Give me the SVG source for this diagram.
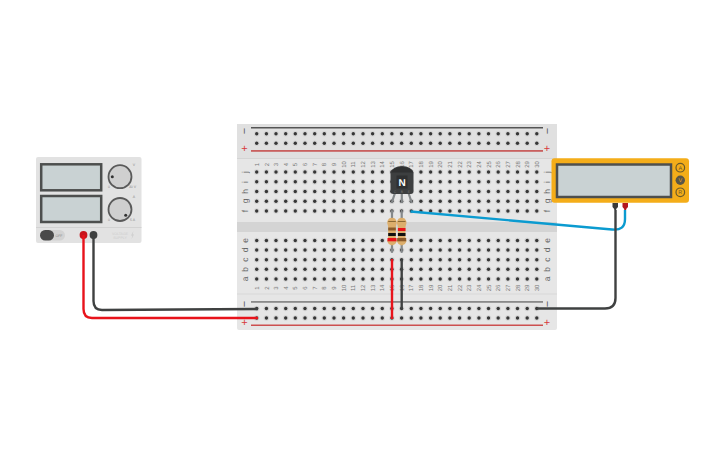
<svg xmlns="http://www.w3.org/2000/svg" xmlns:xlink="http://www.w3.org/1999/xlink" width="725" height="453" viewBox="0 0 725 453">
<style>
text{text-rendering:geometricPrecision}
.lbl{font-family:"Liberation Sans",Arial,sans-serif;font-size:6px;fill:#777;text-anchor:middle}
.let{font-family:"Liberation Sans",Arial,sans-serif;font-size:8.500px;fill:#666;text-anchor:middle}
.sign{font-family:"Liberation Sans",Arial,sans-serif;font-size:11px;fill:#555;text-anchor:middle}
.plus{font-family:"Liberation Sans",Arial,sans-serif;font-size:11px;fill:#d8383a;text-anchor:middle}
.sm{font-family:"Liberation Sans",Arial,sans-serif;font-size:3.500px;fill:#888;text-anchor:middle}
.w{fill:none;stroke-width:2.400;stroke-linejoin:round;stroke-linecap:butt}
.screen{fill:#c9d2d3;stroke:#4d4f4e;stroke-width:2.500}
.lead{stroke:#85898b;stroke-width:2.200;fill:none;stroke-linecap:round}
</style>
<defs>
<g id="hole"><circle r="2.800" fill="#d4d4d4"/><circle r="1.700" fill="#363636"/></g>
<g id="row">
<use xlink:href="#hole" x="256.7"/><use xlink:href="#hole" x="266.4"/><use xlink:href="#hole" x="276"/><use xlink:href="#hole" x="285.7"/><use xlink:href="#hole" x="295.3"/><use xlink:href="#hole" x="305"/><use xlink:href="#hole" x="314.7"/><use xlink:href="#hole" x="324.3"/><use xlink:href="#hole" x="334"/><use xlink:href="#hole" x="343.6"/>
<use xlink:href="#hole" x="353.3"/><use xlink:href="#hole" x="363"/><use xlink:href="#hole" x="372.6"/><use xlink:href="#hole" x="382.3"/><use xlink:href="#hole" x="391.9"/><use xlink:href="#hole" x="401.6"/><use xlink:href="#hole" x="411.3"/><use xlink:href="#hole" x="420.9"/><use xlink:href="#hole" x="430.6"/><use xlink:href="#hole" x="440.2"/>
<use xlink:href="#hole" x="449.9"/><use xlink:href="#hole" x="459.6"/><use xlink:href="#hole" x="469.2"/><use xlink:href="#hole" x="478.9"/><use xlink:href="#hole" x="488.5"/><use xlink:href="#hole" x="498.2"/><use xlink:href="#hole" x="507.9"/><use xlink:href="#hole" x="517.5"/><use xlink:href="#hole" x="527.2"/><use xlink:href="#hole" x="536.8"/>
</g>
<g id="nums">
<text class="lbl" transform="translate(258.8,0) rotate(-90)">1</text><text class="lbl" transform="translate(268.5,0) rotate(-90)">2</text><text class="lbl" transform="translate(278.1,0) rotate(-90)">3</text><text class="lbl" transform="translate(287.8,0) rotate(-90)">4</text><text class="lbl" transform="translate(297.4,0) rotate(-90)">5</text><text class="lbl" transform="translate(307.1,0) rotate(-90)">6</text><text class="lbl" transform="translate(316.8,0) rotate(-90)">7</text><text class="lbl" transform="translate(326.4,0) rotate(-90)">8</text><text class="lbl" transform="translate(336.1,0) rotate(-90)">9</text><text class="lbl" transform="translate(345.7,0) rotate(-90)">10</text>
<text class="lbl" transform="translate(355.4,0) rotate(-90)">11</text><text class="lbl" transform="translate(365.1,0) rotate(-90)">12</text><text class="lbl" transform="translate(374.7,0) rotate(-90)">13</text><text class="lbl" transform="translate(384.4,0) rotate(-90)">14</text><text class="lbl" transform="translate(394,0) rotate(-90)">15</text><text class="lbl" transform="translate(403.7,0) rotate(-90)">16</text><text class="lbl" transform="translate(413.4,0) rotate(-90)">17</text><text class="lbl" transform="translate(423,0) rotate(-90)">18</text><text class="lbl" transform="translate(432.7,0) rotate(-90)">19</text><text class="lbl" transform="translate(442.3,0) rotate(-90)">20</text>
<text class="lbl" transform="translate(452,0) rotate(-90)">21</text><text class="lbl" transform="translate(461.7,0) rotate(-90)">22</text><text class="lbl" transform="translate(471.3,0) rotate(-90)">23</text><text class="lbl" transform="translate(481,0) rotate(-90)">24</text><text class="lbl" transform="translate(490.6,0) rotate(-90)">25</text><text class="lbl" transform="translate(500.3,0) rotate(-90)">26</text><text class="lbl" transform="translate(510,0) rotate(-90)">27</text><text class="lbl" transform="translate(519.6,0) rotate(-90)">28</text><text class="lbl" transform="translate(529.3,0) rotate(-90)">29</text><text class="lbl" transform="translate(538.9,0) rotate(-90)">30</text>
</g>
<g id="letters-top">
<text class="let" transform="translate(0,172) rotate(-90)">j</text><text class="let" transform="translate(0,182) rotate(-90)">i</text><text class="let" transform="translate(0,191.500) rotate(-90)">h</text><text class="let" transform="translate(0,201) rotate(-90)">g</text><text class="let" transform="translate(0,211) rotate(-90)">f</text>
</g>
<g id="letters-bottom">
<text class="let" transform="translate(0,240.500) rotate(-90)">e</text><text class="let" transform="translate(0,250) rotate(-90)">d</text><text class="let" transform="translate(0,259.700) rotate(-90)">c</text><text class="let" transform="translate(0,269.300) rotate(-90)">b</text><text class="let" transform="translate(0,279) rotate(-90)">a</text>
</g>
</defs>
<rect width="725" height="453" fill="#fff"/>

<g id="breadboard">
<rect x="237" y="124" width="320" height="206" rx="2" fill="#e6e6e6"/>
<rect x="237" y="124" width="320" height="34" fill="#e0e0e0"/>
<rect x="237" y="222" width="320" height="10" fill="#d4d4d4"/>
<rect x="237" y="293.500" width="320" height="1" fill="#d8d8d8"/>
<rect x="237" y="158" width="320" height="1" fill="#d4d4d4"/>
<rect x="251" y="127" width="292" height="1.500" fill="#555"/>
<rect x="251" y="150" width="292" height="1.800" fill="#c9605f"/>
<rect x="251" y="301" width="292" height="1.800" fill="#8a8a8a"/>
<rect x="251" y="324.500" width="292" height="1.500" fill="#cc4f4f"/>
<text class="sign" transform="translate(247.500,131) rotate(-90)">−</text>
<text class="plus" x="244.500" y="152">+</text>
<text class="sign" transform="translate(247.500,304) rotate(-90)">−</text>
<text class="plus" x="244.500" y="326">+</text>
<text class="sign" transform="translate(550.500,131) rotate(-90)">−</text>
<text class="plus" x="547" y="152">+</text>
<text class="sign" transform="translate(550.500,304) rotate(-90)">−</text>
<text class="plus" x="547" y="326">+</text>
<use xlink:href="#row" y="133.700"/><use xlink:href="#row" y="143.200"/>
<use xlink:href="#row" y="172"/><use xlink:href="#row" y="181.700"/><use xlink:href="#row" y="191.500"/><use xlink:href="#row" y="201.200"/><use xlink:href="#row" y="211"/>
<use xlink:href="#row" y="240.500"/><use xlink:href="#row" y="250"/><use xlink:href="#row" y="259.700"/><use xlink:href="#row" y="269.300"/><use xlink:href="#row" y="279"/>
<use xlink:href="#row" y="308.500"/><use xlink:href="#row" y="318"/>
<use xlink:href="#nums" y="164.500"/><use xlink:href="#nums" y="288"/>
<use xlink:href="#letters-top" x="247.500"/><use xlink:href="#letters-bottom" x="247.500"/>
<use xlink:href="#letters-top" x="549.500"/><use xlink:href="#letters-bottom" x="549.500"/>
</g>

<g id="power-supply">
<rect x="36" y="157" width="105.500" height="86" rx="2" fill="#e2e2e2"/>
<rect x="36" y="227" width="105.500" height="1" fill="#d2d2d2"/>
<rect x="41.200" y="164.300" width="60" height="26" class="screen"/>
<rect x="41.200" y="196" width="60" height="26" class="screen"/>
<circle cx="120" cy="176.700" r="11.500" fill="#cfcfcf" stroke="#5a5a5a" stroke-width="1.800"/>
<circle cx="112.300" cy="176.700" r="1.500" fill="#333"/>
<circle cx="120" cy="209.500" r="11.500" fill="#cfcfcf" stroke="#5a5a5a" stroke-width="1.800"/>
<circle cx="125.700" cy="215.300" r="1.500" fill="#333"/>
<rect x="40" y="230" width="25" height="10.500" rx="5.200" fill="#d2d2d2"/>
<rect x="40" y="230" width="14" height="10.500" rx="5.200" fill="#4a4a4a"/>
<text x="59" y="236.500" class="sm">OFF</text>
<text x="134" y="166" class="sm">V</text><text x="109" y="188" class="sm">0</text><text x="132.500" y="188" class="sm">30 V</text>
<text x="134" y="198" class="sm">A</text><text x="109" y="221" class="sm">0</text><text x="132.500" y="221" class="sm">5 A</text>
<text x="120" y="234.500" class="sm" style="fill:#cdcdcd">VOLTAGE</text><text x="120" y="238.500" class="sm" style="fill:#cdcdcd">SUPPLY</text>
<path d="M133.500 231l-2.500 4.500h1.500l-1 3.500 2.500-4.500h-1.500z" fill="#cdcdcd"/>
<circle cx="83.500" cy="235" r="3.900" fill="#c8141c"/>
<circle cx="93.500" cy="235" r="3.900" fill="#3f4141"/>
</g>

<g id="multimeter">
<rect x="551.500" y="158.300" width="137.500" height="44.500" rx="3" fill="#f4ad19"/>
<rect x="557" y="164.500" width="114" height="32.500" class="screen"/>
<circle cx="680.300" cy="167.700" r="4.300" fill="none" stroke="#6b5a2a" stroke-width="1.200"/>
<text x="680.300" y="169.700" class="lbl" style="fill:#6b5a2a;font-size:5.500px">A</text>
<circle cx="680.300" cy="180.300" r="4.700" fill="#5a5647"/>
<text x="680.300" y="182.300" class="lbl" style="fill:#f4ad19;font-size:5.500px">V</text>
<circle cx="680.300" cy="192.300" r="4.300" fill="none" stroke="#6b5a2a" stroke-width="1.200"/>
<text x="680.300" y="194.300" class="lbl" style="fill:#6b5a2a;font-size:5.500px">R</text>
<path d="M612.500 203h5.500v4l-1.800 2v1h-2v-1l-1.700-2z" fill="#3a3a3a"/>
<path d="M622.500 203h5.500v4l-1.800 2v1h-2v-1l-1.700-2z" fill="#b3161d"/>
</g>

<g id="transistor">
<path class="lead" d="M395 193L392 202"/>
<path class="lead" d="M401.800 193V202"/>
<path class="lead" d="M408.500 193L411.500 202"/>
<path d="M390.500 172.500Q393 166 402 166Q411 166 413.500 172.500V191Q413.500 194 410.500 194H393.500Q390.500 194 390.500 191Z" fill="#3d3f40"/>
<path d="M391 172.500Q393 167 402 167Q411 167 413 172.500Z" fill="#2f3031"/>
<rect x="396.500" y="175.500" width="11" height="13" fill="#2f3031"/>
<text x="402" y="186" style="font-family:'Liberation Sans',Arial,sans-serif;font-size:10px;font-weight:bold;fill:#fff;text-anchor:middle">N</text>
<text x="395" y="192.500" class="sm" style="fill:#777">C</text><text x="402" y="192.500" class="sm" style="fill:#777">B</text><text x="409" y="192.500" class="sm" style="fill:#777">E</text>
</g>

<g id="resistor-1">
<path class="lead" d="M392 211V222M392 243V252"/>
<path d="M389 218.500Q392 217 395 218.500Q396.800 220.500 396.800 223Q395.800 226 395.800 228V237Q395.800 239 396.800 241Q396 244.500 392 245.500Q388 244.500 387.200 241Q388.200 239 388.200 237V228Q388.200 226 387.200 223Q387.200 220.500 389 218.500Z" fill="#dcae6c"/>
<rect x="388.200" y="221" width="7.600" height="1" fill="#8b6a35"/>
<rect x="388.200" y="227.500" width="7.600" height="3" fill="#8a5a2b"/>
<rect x="388.200" y="233" width="7.600" height="3" fill="#111"/>
<rect x="387.500" y="238" width="9" height="3.300" fill="#e8131b"/>
</g>
<g id="resistor-2">
<path class="lead" d="M401.700 211V222M401.700 243V252"/>
<path d="M398.700 218.500Q401.700 217 404.700 218.500Q406.500 220.500 406.500 223Q405.500 226 405.500 228V237Q405.500 239 406.500 241Q405.700 244.500 401.700 245.500Q397.700 244.500 396.900 241Q397.900 239 397.900 237V228Q397.900 226 396.900 223Q396.900 220.500 398.700 218.500Z" fill="#dcae6c"/>
<rect x="397.900" y="221" width="7.600" height="1" fill="#8b6a35"/>
<rect x="397.900" y="228" width="7.600" height="3" fill="#e8131b"/>
<rect x="397.900" y="233" width="7.600" height="3" fill="#111"/>
<rect x="397.200" y="238" width="9" height="3.300" fill="#8a5a2b"/>
</g>

<g id="connectors">
<path class="w" stroke="#e8131b" d="M83.500 235V309Q83.500 318 92 318H258"/>
<path class="w" stroke="#3f4141" d="M93.500 235V301Q93.500 310 102 310L258 309"/>
<path class="w" stroke="#e8131b" d="M392 259V319"/>
<path class="w" stroke="#3f4141" d="M401.700 259V309"/>
<path class="w" stroke="#0b9bd0" d="M410.500 211.500L612 229.500Q625 231 625 219V210"/>
<path class="w" stroke="#3f4141" d="M615.500 210V298Q615.500 308.500 605 308.500H537"/>
</g>
</svg>
